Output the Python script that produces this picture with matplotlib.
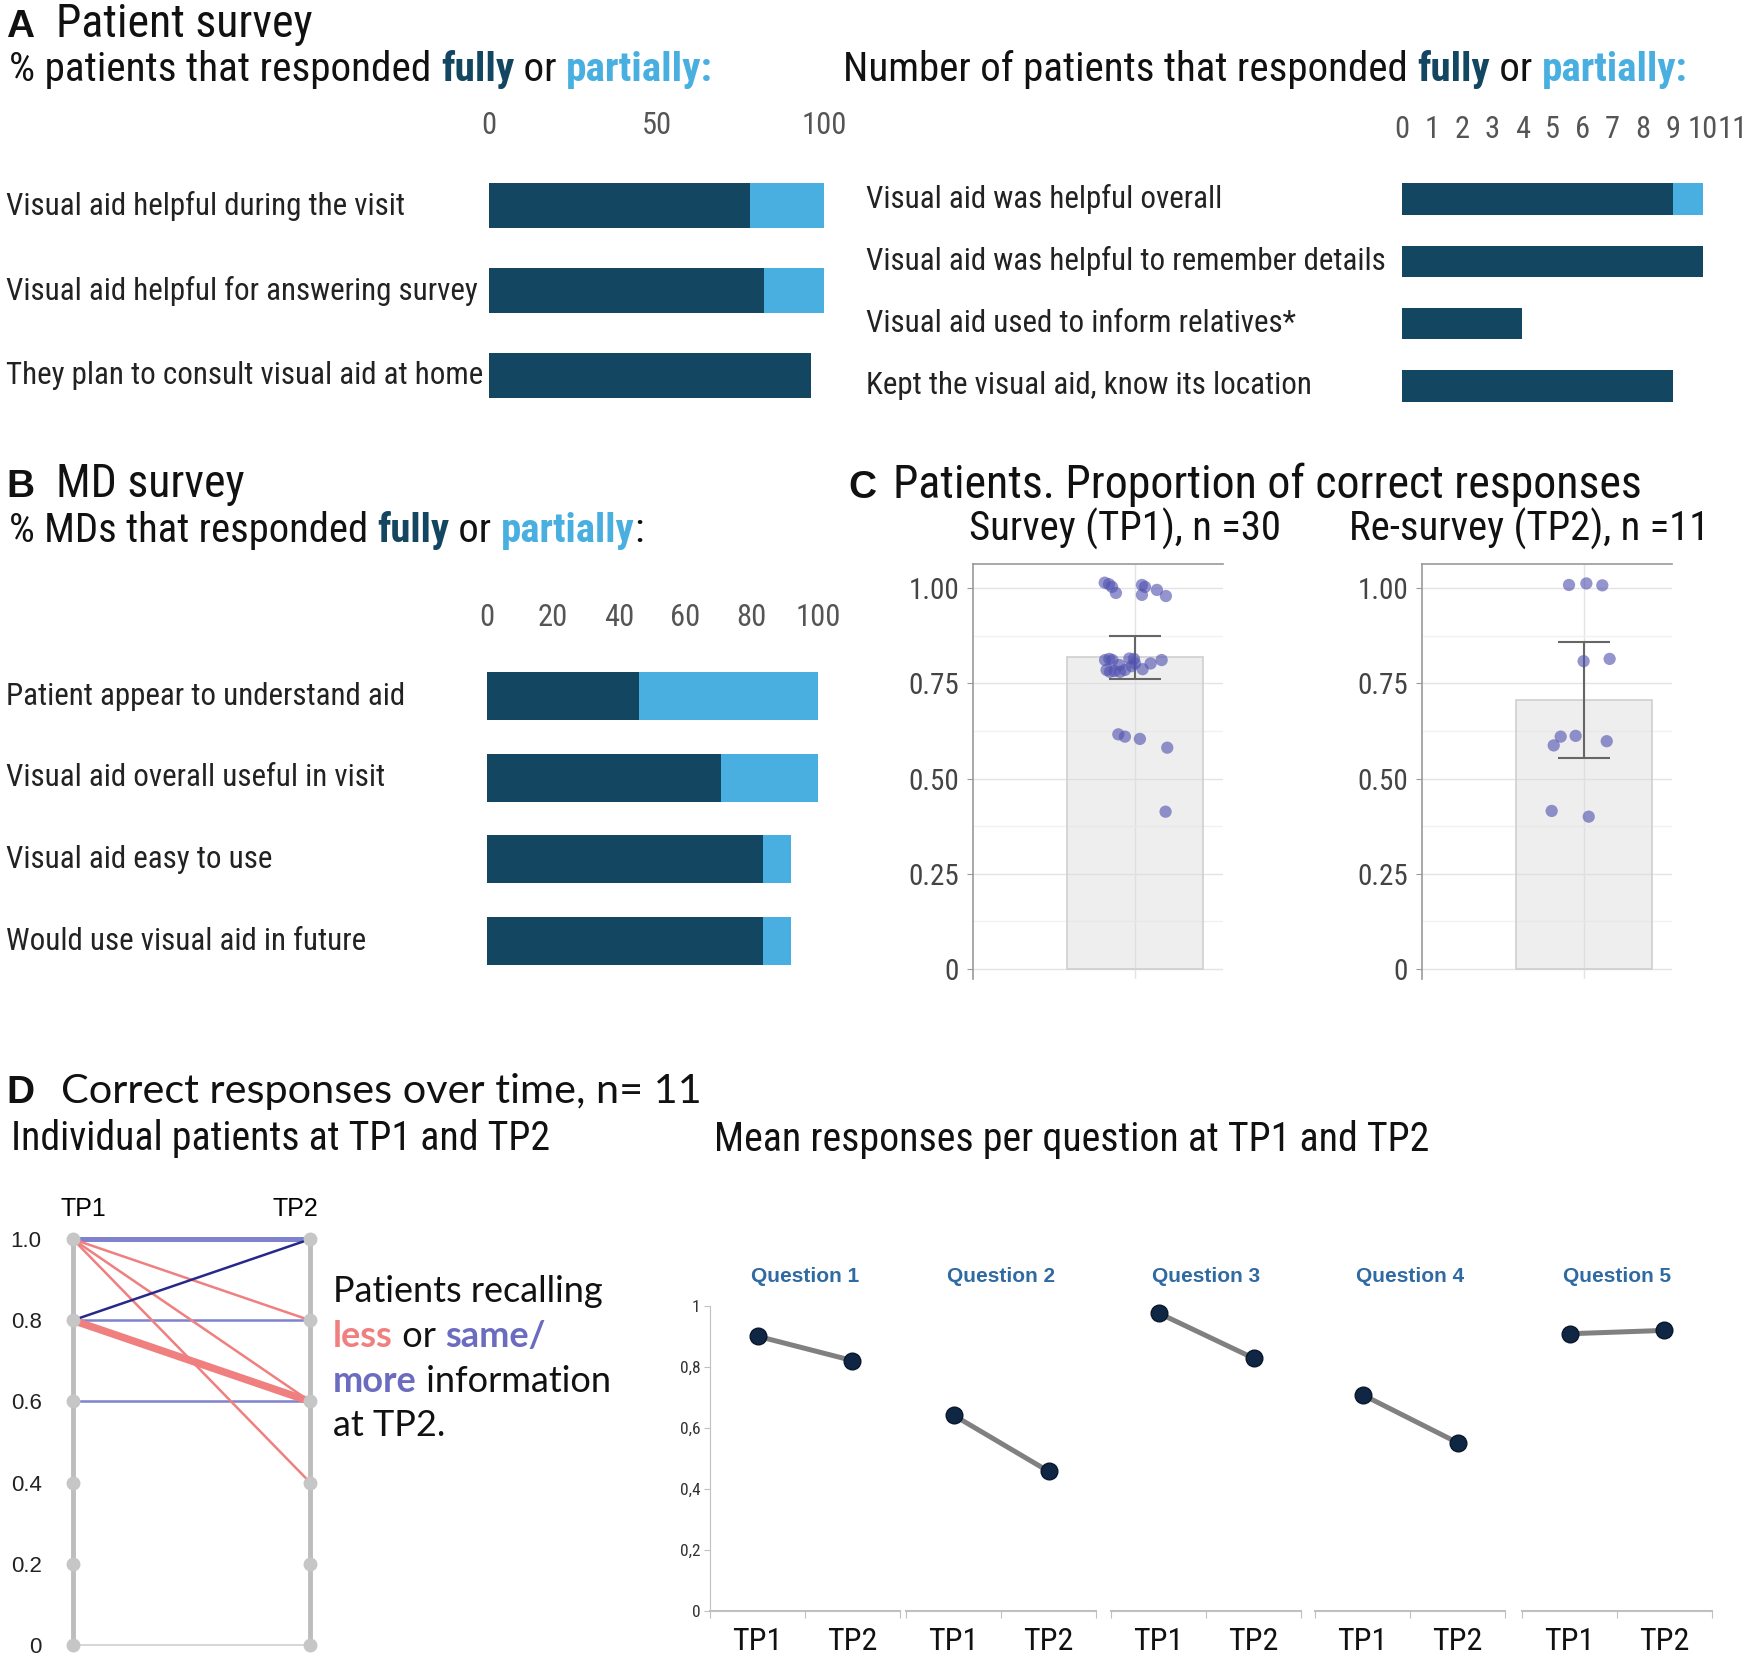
import matplotlib.pyplot as plt
from matplotlib import font_manager
from matplotlib.transforms import blended_transform_factory
from collections import Counter

W, H = 1750, 1661

# condensed face for most labels; if it is missing, shrink Liberation Sans instead
available = {f.name for f in font_manager.fontManager.ttflist}
if 'Roboto Condensed' in available:
    NARROW_NAME, K = 'Roboto Condensed', 1.0
else:
    NARROW_NAME, K = 'Liberation Sans', 0.84
NARROW = [NARROW_NAME, 'DejaVu Sans']
ARIAL = ['Liberation Sans', 'DejaVu Sans']
LATO = ['Lato', 'DejaVu Sans']
plt.rcParams['font.family'] = NARROW

DARK = '#134660'
LIGHT = '#48afe0'
RED = '#f07f7f'
BLUE = '#7f82cc'
NAVY = '#27298a'

# ---- data ----
pat_pct_labels = ['Visual aid helpful during the visit',
                  'Visual aid helpful for answering survey',
                  'They plan to consult visual aid at home']
pat_pct_fully = [78, 82, 96]
pat_pct_partial = [22, 18, 0]

pat_n_labels = ['Visual aid was helpful overall',
                'Visual aid was helpful to remember details',
                'Visual aid used to inform relatives*',
                'Kept the visual aid, know its location']
pat_n_fully = [9, 10, 4, 9]
pat_n_partial = [1, 0, 0, 0]

md_labels = ['Patient appear to understand aid',
             'Visual aid overall useful in visit',
             'Visual aid easy to use',
             'Would use visual aid in future']
md_fully = [45.8, 70.8, 83.3, 83.3]
md_partial = [54.2, 29.2, 8.4, 8.4]

# panel C: jittered points (x offset, proportion correct)
tp1_x = [-0.178, -0.153, -0.135, -0.112, 0.041, 0.059, 0.041, 0.129, 0.182,
         -0.176, -0.151, -0.133, -0.167, -0.147, -0.120, -0.092, -0.088,
         -0.059, -0.033, -0.006, -0.020, 0.0, 0.045, 0.092, 0.157,
         -0.098, -0.059, 0.029, 0.190, 0.180]
tp1_y = [1.014, 1.010, 1.003, 0.987, 1.008, 1.003, 0.982, 0.995, 0.979,
         0.811, 0.814, 0.811, 0.785, 0.780, 0.782, 0.798, 0.780,
         0.785, 0.815, 0.814, 0.795, 0.802, 0.787, 0.802, 0.811,
         0.616, 0.610, 0.604, 0.581, 0.413]
tp1_mean, tp1_lo, tp1_hi = 0.82, 0.762, 0.874

tp2_x = [-0.088, 0.014, 0.108, -0.002, 0.151, -0.178, -0.137, -0.049, 0.134,
         -0.190, 0.028]
tp2_y = [1.008, 1.012, 1.007, 0.808, 0.814, 0.587, 0.610, 0.612, 0.598,
         0.415, 0.400]
tp2_mean, tp2_lo, tp2_hi = 0.706, 0.555, 0.858

# panel D: individual patients
slope_tp1 = [1.0, 1.0, 0.8, 1.0, 0.8, 1.0, 1.0, 0.8, 0.8, 0.8, 0.6]
slope_tp2 = [1.0, 1.0, 1.0, 0.8, 0.8, 0.6, 0.4, 0.6, 0.6, 0.6, 0.6]
levels = [0, 0.2, 0.4, 0.6, 0.8, 1.0]
level_labels = ['0', '0.2', '0.4', '0.6', '0.8', '1.0']

# panel D: mean per question
questions = ['Question 1', 'Question 2', 'Question 3', 'Question 4', 'Question 5']
q_tp1 = [0.901, 0.642, 0.977, 0.709, 0.909]
q_tp2 = [0.821, 0.458, 0.829, 0.552, 0.920]
q_ticks = [0, 0.2, 0.4, 0.6, 0.8, 1]
q_tick_labels = ['0', '0,2', '0,4', '0,6', '0,8', '1']

fig = plt.figure(figsize=(W / 100, H / 100), dpi=100)
renderer = fig.canvas.get_renderer()


def box(l, t, r, b):
    return fig.add_axes([l / W, 1 - b / H, (r - l) / W, (b - t) / H])


def ftext(x, y, s, **kw):
    kw.setdefault('va', 'baseline')
    return fig.text(x / W, 1 - y / H, s, **kw)


def rich(x, y, parts, size, family):
    for s, color, weight in parts:
        ftext(x, y, s, color=color, fontweight=weight, fontsize=size, family=family)
        a = fig.text(0, 0, s + '|', fontweight=weight, fontsize=size, family=family)
        b = fig.text(0, 0, '|', fontweight=weight, fontsize=size, family=family)
        x += a.get_window_extent(renderer).width - b.get_window_extent(renderer).width
        a.remove()
        b.remove()


def heading(letter, x_letter, x_text, y, text, size, family=NARROW):
    ftext(x_letter, y, letter, fontsize=28, fontweight='bold', family=ARIAL, color='#111')
    ftext(x_text, y, text, fontsize=size, family=family, color='#111')


def hbars(ax, labels, fully, partial, xmax, ticks, label_x, height, pad):
    y = list(range(len(labels)))
    ax.barh(y, fully, height=height, color=DARK)
    ax.barh(y, partial, left=fully, height=height, color=LIGHT)
    ax.set_xlim(0, xmax)
    ax.set_ylim(len(labels) - 0.4, -0.6)
    ax.xaxis.tick_top()
    ax.set_xticks(ticks)
    ax.tick_params(axis='x', length=0, pad=pad, labelsize=22 * K, labelcolor='#555555')
    ax.set_yticks([])
    for s in ax.spines.values():
        s.set_visible(False)
    tr = blended_transform_factory(fig.transFigure, ax.transData)
    for i, lab in enumerate(labels):
        ax.text(label_x / W, i, lab, transform=tr, ha='left', va='center',
                fontsize=22.3 * K, color='#222222')


SUB = 29.3 * K
TITLE = 33 * K

# ---- A ----
heading('A', 6, 56, 37, 'Patient survey', TITLE)
rich(9, 81, [('% patients that responded ', '#111', 'normal'), ('fully', DARK, 'bold'),
             (' or ', '#111', 'normal'), ('partially:', LIGHT, 'bold')], 29.7 * K, NARROW)
rich(843, 81, [('Number of patients that responded ', '#111', 'normal'), ('fully', DARK, 'bold'),
               (' or ', '#111', 'normal'), ('partially:', LIGHT, 'bold')], 29.5 * K, NARROW)

ax = box(489, 155, 824, 426)
hbars(ax, pat_pct_labels, pat_pct_fully, pat_pct_partial, 100, [0, 50, 100], 6, 0.53, 11)

ax = box(1402, 162, 1733, 423)
hbars(ax, pat_n_labels, pat_n_fully, pat_n_partial, 11, list(range(12)), 866, 0.51, 13)

# ---- B ----
heading('B', 6, 56, 497, 'MD survey', TITLE)
rich(9, 542, [('% MDs that responded ', '#111', 'normal'), ('fully', DARK, 'bold'),
              (' or ', '#111', 'normal'), ('partially', LIGHT, 'bold'), (':', '#111', 'normal')],
     SUB, NARROW)
ax = box(487, 647, 818, 990)
hbars(ax, md_labels, md_fully, md_partial, 100, [0, 20, 40, 60, 80, 100], 6, 0.59, 11)

# ---- C ----
heading('C', 848, 893, 498, 'Patients. Proportion of correct responses', TITLE)
ftext(1125, 541, 'Survey (TP1), n =30', fontsize=SUB, ha='center', color='#111')
ftext(1529, 541, 'Re-survey (TP2), n =11', fontsize=SUB, ha='center', color='#111')


def cpanel(ax, xs, ys, mean, lo, hi):
    ax.set_xlim(-0.953, 0.518)
    ax.set_ylim(-0.026, 1.063)
    ax.set_yticks([0, 0.25, 0.5, 0.75, 1.0])
    ax.set_yticklabels(['0', '0.25', '0.50', '0.75', '1.00'])
    ax.set_yticks([0.125, 0.375, 0.625, 0.875], minor=True)
    ax.set_xticks([0])
    ax.set_xticklabels([])
    ax.tick_params(axis='x', length=0)
    ax.tick_params(axis='y', which='major', length=4, color='#999999', labelsize=21 * K,
                   labelcolor='#444444', pad=6)
    ax.tick_params(axis='y', which='minor', length=0)
    ax.grid(True, which='major', color='#e4e4e4', lw=1)
    ax.grid(True, which='minor', axis='y', color='#f1f1f1', lw=1)
    ax.set_axisbelow(True)
    ax.bar(0, mean, width=0.8, color=(0.86, 0.86, 0.86, 0.45), edgecolor='#cfcfcf', lw=1.2, zorder=2)
    ax.errorbar(0, mean, yerr=[[mean - lo], [hi - mean]], color='#666666', capsize=19,
                lw=1.5, capthick=1.5, zorder=3)
    ax.scatter(xs, ys, s=78, color='#5252b0', alpha=0.62, edgecolor='none', zorder=4)
    for side in ('right', 'bottom'):
        ax.spines[side].set_visible(False)
    for side in ('top', 'left'):
        ax.spines[side].set_color('#999999')
        ax.spines[side].set_linewidth(1.2)


cpanel(box(973, 564, 1223, 979), tp1_x, tp1_y, tp1_mean, tp1_lo, tp1_hi)
cpanel(box(1422, 564, 1672, 979), tp2_x, tp2_y, tp2_mean, tp2_lo, tp2_hi)

# ---- D ----
heading('D', 6, 61, 1103, 'Correct responses over time, n= 11', 29.8, family=LATO)
ftext(11, 1150, 'Individual patients at TP1 and TP2', fontsize=28.7 * K, color='#111')
ftext(714, 1151, 'Mean responses per question at TP1 and TP2', fontsize=28.7 * K, color='#111')

ax = box(61, 1227, 322, 1657)
ax.set_xlim(-0.05, 1.05)
ax.set_ylim(-0.03, 1.03)
for x in (0, 1):
    ax.plot([x, x], [0, 1], color='#bdbdbd', lw=3.5, zorder=1)
    ax.plot([x] * len(levels), levels, 'o', color='#c6c6c6', ms=9, zorder=5)
ax.plot([0, 1], [1, 1], color='#d0d0d0', lw=1.2, zorder=1)
ax.plot([0, 1], [0, 0], color='#d0d0d0', lw=1.2, zorder=1)
for (a, b), n in Counter(zip(slope_tp1, slope_tp2)).items():
    if b < a:
        c, z = RED, 3
    elif b > a:
        c, z = NAVY, 4
    else:
        c, z = BLUE, 2
    ax.plot([0, 1], [a, b], color=c, lw=1.8 * n, zorder=z, solid_capstyle='butt')
ax.set_xticks([])
ax.set_yticks(levels)
ax.set_yticklabels(level_labels, family=ARIAL)
ax.tick_params(axis='y', length=0, pad=14, labelsize=16, labelcolor='#222222')
for s in ax.spines.values():
    s.set_visible(False)
ax.text(0.045, 1.075, 'TP1', ha='center', va='center', fontsize=18, family=ARIAL)
ax.text(0.937, 1.075, 'TP2', ha='center', va='center', fontsize=18, family=ARIAL)

ANN = 26
rich(333, 1302, [('Patients recalling', '#111', 'normal')], ANN, LATO)
rich(333, 1347, [('less', RED, 'bold'), (' or ', '#111', 'normal'), ('same/', '#6b6bc0', 'bold')], ANN, LATO)
rich(333, 1392, [('more', '#6b6bc0', 'bold'), (' information', '#111', 'normal')], ANN, LATO)
rich(333, 1436, [('at TP2.', '#111', 'normal')], ANN, LATO)

q_lefts = [710, 906, 1111, 1315, 1522]
for i, q in enumerate(questions):
    l = q_lefts[i]
    ax = box(l, 1306, l + 190, 1611)
    ax.set_xlim(0, 2)
    ax.set_ylim(0, 1)
    ax.plot([0.5, 1.5], [q_tp1[i], q_tp2[i]], color='#808080', lw=3.6, zorder=2, clip_on=False)
    ax.plot([0.5, 1.5], [q_tp1[i], q_tp2[i]], 'o', ms=12, color='#0f2744', mec='#08172a',
            mew=1, zorder=3, clip_on=False)
    for side in ('top', 'right'):
        ax.spines[side].set_visible(False)
    ax.spines['bottom'].set_color('#c0c0c0')
    ax.spines['bottom'].set_linewidth(1.5)
    ax.set_xticks([0, 1, 2])
    ax.set_xticklabels([])
    ax.tick_params(axis='x', length=5, color='#c0c0c0')
    if i == 0:
        ax.spines['left'].set_color('#c0c0c0')
        ax.set_yticks(q_ticks)
        ax.set_yticklabels(q_tick_labels)
        ax.tick_params(axis='y', length=4, color='#c0c0c0', labelsize=12.5 * K, pad=3,
                       labelcolor='#333333')
    else:
        ax.spines['left'].set_visible(False)
        ax.set_yticks([])
    ax.text(1, 1.098, q, ha='center', va='center', fontsize=15, fontweight='bold',
            family=ARIAL, color='#2f6aa3')
    ax.text(0.5, -0.1, 'TP1', ha='center', va='center', fontsize=23 * K, color='#111')
    ax.text(1.5, -0.1, 'TP2', ha='center', va='center', fontsize=23 * K, color='#111')

fig.savefig('out.png', dpi=100)
